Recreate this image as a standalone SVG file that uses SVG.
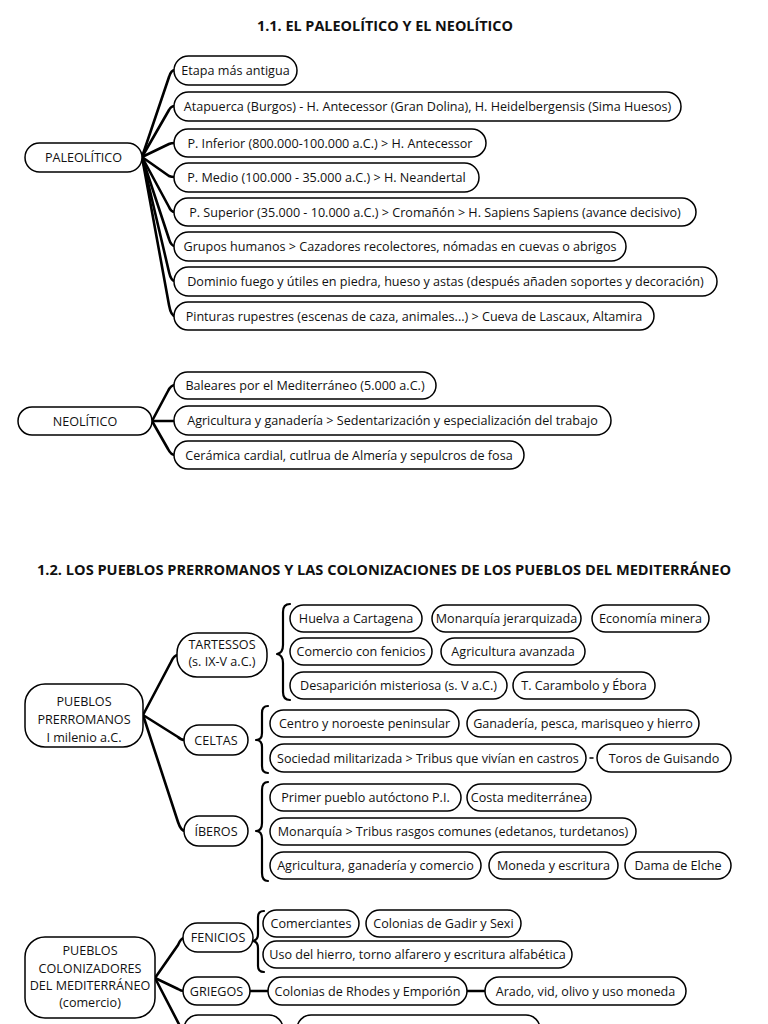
<svg xmlns="http://www.w3.org/2000/svg" width="768" height="1024" viewBox="0 0 768 1024">
<style>
.n{fill:#fff;stroke:#000;stroke-width:1.5}
.t{font-family:"Open Sans","Liberation Sans",sans-serif;font-size:12.6px;fill:#111;text-anchor:middle;dominant-baseline:central}
.h{font-family:"Open Sans","Liberation Sans",sans-serif;font-size:13.5px;font-weight:bold;fill:#111;text-anchor:middle}
.c{fill:none;stroke:#000;stroke-width:2.6;stroke-linecap:round;stroke-linejoin:round}
.b{fill:none;stroke:#000;stroke-width:2.2;stroke-linecap:round;stroke-linejoin:round}
</style>
<rect width="768" height="1024" fill="#fff"/>
<text class="h" x="385" y="31" textLength="256" lengthAdjust="spacingAndGlyphs">1.1. EL PALEOLÍTICO Y EL NEOLÍTICO</text>
<text class="h" x="384" y="575" textLength="694" lengthAdjust="spacingAndGlyphs">1.2. LOS PUEBLOS PRERROMANOS Y LAS COLONIZACIONES DE LOS PUEBLOS DEL MEDITERRÁNEO</text>

<g id="connectors">
<path class="c" d="M142 157 L169 77 Q171 70 175 70"/>
<path class="c" d="M142 157 L169 110 Q171 106 175 106"/>
<path class="c" d="M142 157 L169 144 Q171 143 175 143"/>
<path class="c" d="M142 157 L169 176 Q171 177 175 177"/>
<path class="c" d="M142 157 L169 207 Q171 212 175 212"/>
<path class="c" d="M142 157 L169 239 Q171 246 175 246"/>
<path class="c" d="M142 157 L169 272 Q171 281 175 281"/>
<path class="c" d="M142 157 L169 305 Q171 316 175 316"/>
<path class="c" d="M152 421 L168 391 Q171 385 175 385"/>
<path class="c" d="M152 421 L175 421"/>
<path class="c" d="M152 421 L168 449 Q171 455 175 455"/>
<path class="c" d="M143 715 L171 662 Q174 655 178 655"/>
<path class="c" d="M143 715 L178 737 Q181 740 185 740"/>
<path class="c" d="M143 715 L178 822 Q181 831 185 831"/>
<path class="c" d="M155 978 L178 945 Q181 938 184 938"/>
<path class="c" d="M155 978 L178 989 Q181 991 184 991"/>
<path class="c" d="M155 978 L182 1030"/>
<path class="c" d="M250 991 L268 991"/>
<path class="c" d="M467 991 L485 991"/>
<path class="c" d="M590 758 L593 758" style="stroke-width:1.5"/>
</g>

<g id="braces">
<path class="b" d="M290 604 Q283 604 283 612 L283 645 Q283 653 277 654 Q283 655 283 663 L283 692 Q283 700 290 700"/>
<path class="b" d="M268 706 Q262 706 262 713 L262 733 Q262 740 256 740 Q262 740 262 747 L262 766 Q262 773 268 773"/>
<path class="b" d="M268 782 Q262 782 262 790 L262 823 Q262 831 256 831 Q262 831 262 839 L262 873 Q262 881 268 881"/>
<path class="b" d="M264 911 Q258 911 258 917 L258 934 Q258 940 253 941 Q258 942 258 948 L258 966 Q258 972 264 972"/>
</g>

<g id="paleolitico"><rect class="n" x="25" y="143" width="117" height="29" rx="14.5"/><text class="t" x="83.5" y="157.5">PALEOLÍTICO</text></g>
<g id="p1"><rect class="n" x="174" y="56" width="123" height="29" rx="14.5"/><text class="t" x="235.5" y="70.5">Etapa más antigua</text></g>
<g id="p2"><rect class="n" x="174" y="92" width="507" height="29" rx="14.5"/><text class="t" x="427.5" y="106.5">Atapuerca (Burgos) - H. Antecessor (Gran Dolina), H. Heidelbergensis (Sima Huesos)</text></g>
<g id="p3"><rect class="n" x="174" y="129" width="312" height="28" rx="14"/><text class="t" x="330" y="143">P. Inferior (800.000-100.000 a.C.) &gt; H. Antecessor</text></g>
<g id="p4"><rect class="n" x="174" y="163" width="305" height="29" rx="14.5"/><text class="t" x="326.5" y="177.5">P. Medio (100.000 - 35.000 a.C.) &gt; H. Neandertal</text></g>
<g id="p5"><rect class="n" x="174" y="198" width="522" height="28" rx="14"/><text class="t" x="435" y="212">P. Superior (35.000 - 10.000 a.C.) &gt; Cromañón &gt; H. Sapiens Sapiens (avance decisivo)</text></g>
<g id="p6"><rect class="n" x="174" y="232" width="452" height="29" rx="14.5"/><text class="t" x="400" y="246.5">Grupos humanos &gt; Cazadores recolectores, nómadas en cuevas o abrigos</text></g>
<g id="p7"><rect class="n" x="174" y="267" width="543" height="29" rx="14.5"/><text class="t" x="445.5" y="281.5">Dominio fuego y útiles en piedra, hueso y astas (después añaden soportes y decoración)</text></g>
<g id="p8"><rect class="n" x="174" y="302" width="480" height="28" rx="14"/><text class="t" x="414" y="316">Pinturas rupestres (escenas de caza, animales...) &gt; Cueva de Lascaux, Altamira</text></g>

<g id="neolitico"><rect class="n" x="18" y="407" width="134" height="28" rx="14"/><text class="t" x="85" y="421">NEOLÍTICO</text></g>
<g id="n1"><rect class="n" x="174" y="372" width="262" height="27" rx="13.5"/><text class="t" x="305" y="385.5">Baleares por el Mediterráneo (5.000 a.C.)</text></g>
<g id="n2"><rect class="n" x="174" y="406" width="437" height="29" rx="14.5"/><text class="t" x="392.5" y="420.5">Agricultura y ganadería &gt; Sedentarización y especialización del trabajo</text></g>
<g id="n3"><rect class="n" x="174" y="441" width="350" height="28" rx="14"/><text class="t" x="349" y="455">Cerámica cardial, cutlrua de Almería y sepulcros de fosa</text></g>

<g id="prerromanos"><rect class="n" x="25" y="684" width="118" height="63" rx="20"/><text class="t" x="84" y="701">PUEBLOS</text><text class="t" x="84" y="719">PRERROMANOS</text><text class="t" x="84" y="737">I milenio a.C.</text></g>
<g id="tartessos"><rect class="n" x="177" y="633" width="90" height="44" rx="20"/><text class="t" x="222" y="644">TARTESSOS</text><text class="t" x="222" y="661">(s. IX-V a.C.)</text></g>
<g id="t1"><rect class="n" x="290" y="605" width="132" height="27" rx="13.5"/><text class="t" x="356" y="618.5">Huelva a Cartagena</text></g>
<g id="t2"><rect class="n" x="432" y="605" width="149" height="27" rx="13.5"/><text class="t" x="506.5" y="618.5">Monarquía jerarquizada</text></g>
<g id="t3"><rect class="n" x="592" y="605" width="117" height="27" rx="13.5"/><text class="t" x="650.5" y="618.5">Economía minera</text></g>
<g id="t4"><rect class="n" x="290" y="638" width="142" height="27" rx="13.5"/><text class="t" x="361" y="651.5">Comercio con fenicios</text></g>
<g id="t5"><rect class="n" x="441" y="638" width="144" height="27" rx="13.5"/><text class="t" x="513" y="651.5">Agricultura avanzada</text></g>
<g id="t6"><rect class="n" x="290" y="672" width="217" height="27" rx="13.5"/><text class="t" x="398.5" y="685.5">Desaparición misteriosa (s. V a.C.)</text></g>
<g id="t7"><rect class="n" x="513" y="672" width="142" height="27" rx="13.5"/><text class="t" x="584" y="685.5">T. Carambolo y Ébora</text></g>

<g id="celtas"><rect class="n" x="184" y="725" width="64" height="30" rx="15"/><text class="t" x="216" y="740">CELTAS</text></g>
<g id="c1"><rect class="n" x="270" y="710" width="189" height="27" rx="13.5"/><text class="t" x="364.5" y="723.5">Centro y noroeste peninsular</text></g>
<g id="c2"><rect class="n" x="467" y="710" width="232" height="27" rx="13.5"/><text class="t" x="583" y="723.5">Ganadería, pesca, marisqueo y hierro</text></g>
<g id="c3"><rect class="n" x="270" y="744" width="316" height="28" rx="14"/><text class="t" x="428" y="758">Sociedad militarizada &gt; Tribus que vivían en castros</text></g>
<g id="c4"><rect class="n" x="597" y="744" width="134" height="28" rx="14"/><text class="t" x="664" y="758">Toros de Guisando</text></g>

<g id="iberos"><rect class="n" x="184" y="816" width="64" height="30" rx="15"/><text class="t" x="216" y="831">ÍBEROS</text></g>
<g id="i1"><rect class="n" x="270" y="784" width="191" height="27" rx="13.5"/><text class="t" x="365.5" y="797.5">Primer pueblo autóctono P.I.</text></g>
<g id="i2"><rect class="n" x="467" y="784" width="124" height="27" rx="13.5"/><text class="t" x="529" y="797.5">Costa mediterránea</text></g>
<g id="i3"><rect class="n" x="270" y="818" width="366" height="27" rx="13.5"/><text class="t" x="453" y="831.5">Monarquía &gt; Tribus rasgos comunes (edetanos, turdetanos)</text></g>
<g id="i4"><rect class="n" x="270" y="852" width="211" height="27" rx="13.5"/><text class="t" x="375.5" y="865.5">Agricultura, ganadería y comercio</text></g>
<g id="i5"><rect class="n" x="489" y="852" width="129" height="27" rx="13.5"/><text class="t" x="553.5" y="865.5">Moneda y escritura</text></g>
<g id="i6"><rect class="n" x="625" y="852" width="106" height="27" rx="13.5"/><text class="t" x="678" y="865.5">Dama de Elche</text></g>

<g id="colonizadores"><rect class="n" x="25" y="937" width="130" height="81" rx="20"/><text class="t" x="90" y="950">PUEBLOS</text><text class="t" x="90" y="968">COLONIZADORES</text><text class="t" x="90" y="985">DEL MEDITERRÁNEO</text><text class="t" x="90" y="1002">(comercio)</text></g>
<g id="fenicios"><rect class="n" x="183" y="923" width="70" height="29" rx="14.5"/><text class="t" x="218" y="937.5">FENICIOS</text></g>
<g id="f1"><rect class="n" x="263" y="910" width="96" height="27" rx="13.5"/><text class="t" x="311" y="923.5">Comerciantes</text></g>
<g id="f2"><rect class="n" x="366" y="910" width="155" height="27" rx="13.5"/><text class="t" x="443.5" y="923.5">Colonias de Gadir y Sexi</text></g>
<g id="f3"><rect class="n" x="263" y="941" width="309" height="27" rx="13.5"/><text class="t" x="417.5" y="954.5">Uso del hierro, torno alfarero y escritura alfabética</text></g>
<g id="griegos"><rect class="n" x="183" y="977" width="67" height="28" rx="14"/><text class="t" x="216.5" y="991">GRIEGOS</text></g>
<g id="g1"><rect class="n" x="268" y="977" width="199" height="28" rx="14"/><text class="t" x="367.5" y="991">Colonias de Rhodes y Emporión</text></g>
<g id="g2"><rect class="n" x="485" y="977" width="201" height="28" rx="14"/><text class="t" x="585.5" y="991">Arado, vid, olivo y uso moneda</text></g>
<g id="cartagineses"><rect class="n" x="184" y="1015" width="99" height="28" rx="14"/><text class="t" x="233.5" y="1029">CARTAGINESES</text></g>
<g id="k1"><rect class="n" x="297" y="1015" width="243" height="28" rx="14"/></g>
</svg>
